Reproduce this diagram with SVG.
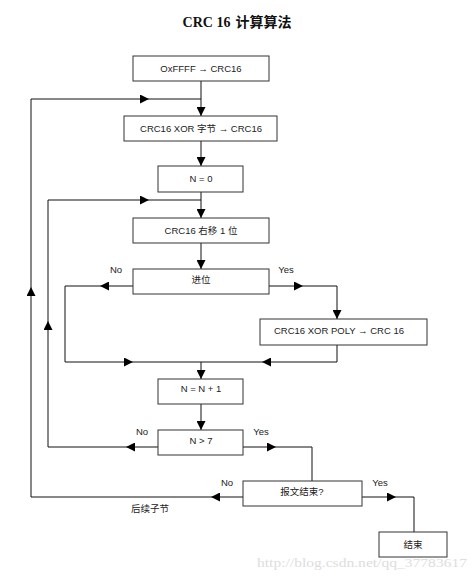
<svg xmlns="http://www.w3.org/2000/svg" width="474" height="576" viewBox="0 0 474 576">
<style>
.box{fill:#fff;stroke:#333;stroke-width:1}
.t{font-family:"Liberation Sans","Noto Sans CJK SC",sans-serif;font-size:9.5px;fill:#222;text-anchor:middle}
.c{stroke:#111;stroke-width:1;fill:none}
.lbl{font-family:"Liberation Sans","Noto Sans CJK SC",sans-serif;font-size:9.5px;fill:#222;text-anchor:middle}
</style>
<defs>
<marker id="a" markerUnits="userSpaceOnUse" markerWidth="9" markerHeight="9" refX="9" refY="4.5" orient="auto">
<path d="M0,0 L9,4.5 L0,9 z" fill="#000"/>
</marker>
</defs>
<rect width="474" height="576" fill="#fff"/>
<text x="237" y="27" text-anchor="middle" font-family="Liberation Serif,'Noto Sans CJK SC',serif" font-size="14" font-weight="bold" fill="#111">CRC 16<tspan dx="5">计算算法</tspan></text>

<g id="connectors">
<path class="c" d="M201,81 V116" marker-end="url(#a)"/>
<path class="c" d="M31,497 V287" marker-end="url(#a)"/>
<path class="c" d="M31,287 V99 H149" marker-end="url(#a)"/>
<path class="c" d="M149,99 H201"/>
<path class="c" d="M201,141 V166" marker-end="url(#a)"/>
<path class="c" d="M201,192 V218" marker-end="url(#a)"/>
<path class="c" d="M126,447 H48 V321" marker-end="url(#a)"/>
<path class="c" d="M48,321 V200 H149" marker-end="url(#a)"/>
<path class="c" d="M149,200 H201"/>
<path class="c" d="M201,243 V269" marker-end="url(#a)"/>
<path class="c" d="M133,286 H100" marker-end="url(#a)"/>
<path class="c" d="M100,286 H65 V362 H133" marker-end="url(#a)"/>
<path class="c" d="M133,362 H201"/>
<path class="c" d="M269,286 H303" marker-end="url(#a)"/>
<path class="c" d="M303,286 H337 V319" marker-end="url(#a)"/>
<path class="c" d="M337,345 V362 H262" marker-end="url(#a)"/>
<path class="c" d="M262,362 H201"/>
<path class="c" d="M201,362 V379" marker-end="url(#a)"/>
<path class="c" d="M201,404 V430" marker-end="url(#a)"/>
<path class="c" d="M158,447 H126" marker-end="url(#a)"/>
<path class="c" d="M243,447 H276" marker-end="url(#a)"/>
<path class="c" d="M276,447 H312 V481"/>
<path class="c" d="M243,497 H211" marker-end="url(#a)"/>
<path class="c" d="M211,497 H31"/>
<path class="c" d="M362,497 H396" marker-end="url(#a)"/>
<path class="c" d="M396,497 H414 V532"/>
<text class="lbl" x="116" y="273">No</text>
<text class="lbl" x="286" y="273">Yes</text>
<text class="lbl" x="142" y="435">No</text>
<text class="lbl" x="261" y="435">Yes</text>
<text class="lbl" x="227" y="486">No</text>
<text class="lbl" x="380" y="486">Yes</text>
<text class="lbl" x="150" y="512">后续子节</text>
</g>

<g id="n1"><rect class="box" x="133" y="56" width="136" height="25"/><text class="t" x="201" y="72">OxFFFF → CRC16</text></g>
<g id="n2"><rect class="box" x="124" y="116" width="153" height="25"/><text class="t" x="201" y="132">CRC16 XOR 字节 → CRC16</text></g>
<g id="n3"><rect class="box" x="158" y="166" width="85" height="26"/><text class="t" x="201" y="182">N = 0</text></g>
<g id="n4"><rect class="box" x="133" y="218" width="136" height="25"/><text class="t" x="201" y="234">CRC16 右移 1 位</text></g>
<g id="n5"><rect class="box" x="133" y="269" width="136" height="25"/><text class="t" x="201" y="283">进位</text></g>
<g id="n6"><rect class="box" x="260" y="319" width="167" height="26"/><text class="t" x="339" y="334">CRC16 XOR POLY → CRC 16</text></g>
<g id="n7"><rect class="box" x="158" y="379" width="85" height="25"/><text class="t" x="201" y="392">N = N + 1</text></g>
<g id="n8"><rect class="box" x="158" y="430" width="85" height="25"/><text class="t" x="201" y="444">N &gt; 7</text></g>
<g id="n9"><rect class="box" x="243" y="481" width="119" height="25"/><text class="t" x="302" y="495">报文结束?</text></g>
<g id="n10"><rect class="box" x="379" y="532" width="68" height="25"/><text class="t" x="413" y="548">结束</text></g>

<text x="257" y="567" font-family="Liberation Serif,serif" font-size="12" fill="#ddd" textLength="210" lengthAdjust="spacingAndGlyphs">http://blog.csdn.net/qq_37783617</text>
</svg>
